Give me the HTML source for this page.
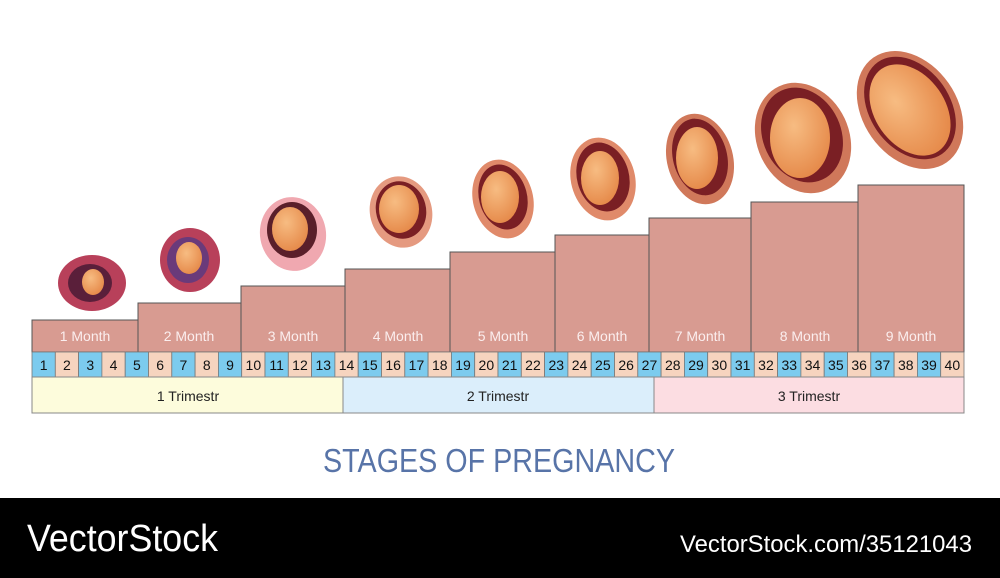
<!DOCTYPE html>
<html><head><meta charset="utf-8"><style>
html,body{margin:0;padding:0;background:#fff;width:1000px;height:578px;overflow:hidden}
svg{display:block}
text{font-family:"Liberation Sans",sans-serif}
</style></head><body>
<svg width="1000" height="578" viewBox="0 0 1000 578" xmlns="http://www.w3.org/2000/svg">
<defs>
<radialGradient id="emb" cx="40%" cy="35%" r="70%"><stop offset="0" stop-color="#f7bc82"/><stop offset="1" stop-color="#e58848"/></radialGradient>
</defs>
<!-- month steps -->
<g fill="#d89b91" stroke="#555" stroke-width="1">
<rect x="32" y="320" width="106" height="32"/>
<rect x="138" y="303" width="103" height="49"/>
<rect x="241" y="286" width="104" height="66"/>
<rect x="345" y="269" width="105" height="83"/>
<rect x="450" y="252" width="105" height="100"/>
<rect x="555" y="235" width="94" height="117"/>
<rect x="649" y="218" width="102" height="134"/>
<rect x="751" y="202" width="107" height="150"/>
<rect x="858" y="185" width="106" height="167"/>
</g>
<g fill="#fbeeee" font-size="14" text-anchor="middle">
<text x="85" y="341">1 Month</text><text x="189" y="341">2 Month</text><text x="293" y="341">3 Month</text>
<text x="398" y="341">4 Month</text><text x="503" y="341">5 Month</text><text x="602" y="341">6 Month</text>
<text x="700" y="341">7 Month</text><text x="805" y="341">8 Month</text><text x="911" y="341">9 Month</text>
</g>
<!-- weeks -->
<g id="weeks" stroke="#777" stroke-width="0.8" font-size="14">
</g>
<!-- trimesters -->
<g stroke="#888" stroke-width="1">
<rect x="32" y="377" width="311" height="36" fill="#fdfcdc"/>
<rect x="343" y="377" width="311" height="36" fill="#dbeefb"/>
<rect x="654" y="377" width="310" height="36" fill="#fcdde2"/>
</g>
<g font-size="14" text-anchor="middle" fill="#222">
<text x="188" y="401">1 Trimestr</text><text x="498" y="401">2 Trimestr</text><text x="809" y="401">3 Trimestr</text>
</g>
<!-- embryos -->
<g>
<ellipse cx="92" cy="283" rx="34" ry="28" fill="#b8405a"/><ellipse cx="90" cy="283" rx="22" ry="19" fill="#5a1f3a"/><ellipse cx="93" cy="282" rx="11" ry="13" fill="url(#emb)"/>
<ellipse cx="190" cy="260" rx="30" ry="32" fill="#b8405a"/><ellipse cx="188" cy="260" rx="21" ry="23" fill="#6a3a7a"/><ellipse cx="189" cy="258" rx="13" ry="16" fill="url(#emb)"/>
<ellipse cx="293" cy="234" rx="33" ry="37" fill="#f0a8b0" transform="rotate(-10 293 234)"/><ellipse cx="292" cy="230" rx="25" ry="28" fill="#5a1f2a"/><ellipse cx="290" cy="229" rx="18" ry="22" fill="url(#emb)"/>
<ellipse cx="401" cy="212" rx="31" ry="36" fill="#e59a80" transform="rotate(-15 401 212)"/><ellipse cx="401" cy="210" rx="25" ry="29" fill="#7a1f24" transform="rotate(-15 401 210)"/><ellipse cx="399" cy="209" rx="20" ry="24" fill="url(#emb)"/>
<ellipse cx="503" cy="199" rx="30" ry="40" fill="#e08a6a" transform="rotate(-15 503 199)"/><ellipse cx="503" cy="197" rx="24" ry="33" fill="#7a1f24" transform="rotate(-15 503 197)"/><ellipse cx="500" cy="197" rx="19" ry="26" fill="url(#emb)"/>
<ellipse cx="603" cy="179" rx="32" ry="42" fill="#e08a6a" transform="rotate(-15 603 179)"/><ellipse cx="603" cy="177" rx="26" ry="35" fill="#7a1f24" transform="rotate(-15 603 177)"/><ellipse cx="600" cy="178" rx="19" ry="27" fill="url(#emb)"/>
<ellipse cx="700" cy="159" rx="33" ry="46" fill="#d0785a" transform="rotate(-15 700 159)"/><ellipse cx="700" cy="157" rx="27" ry="39" fill="#7a1f24" transform="rotate(-15 700 157)"/><ellipse cx="697" cy="158" rx="21" ry="31" fill="url(#emb)"/>
<ellipse cx="803" cy="138" rx="46" ry="57" fill="#d0785a" transform="rotate(-25 803 138)"/><ellipse cx="802" cy="135" rx="39" ry="49" fill="#7a1f24" transform="rotate(-25 802 135)"/><ellipse cx="800" cy="138" rx="30" ry="40" fill="url(#emb)"/>
<ellipse cx="910" cy="110" rx="47" ry="64" fill="#d0785a" transform="rotate(-35 910 110)"/><ellipse cx="910" cy="108" rx="40" ry="56" fill="#7a1f24" transform="rotate(-35 910 108)"/><ellipse cx="910" cy="110" rx="35" ry="50" fill="url(#emb)" transform="rotate(-35 910 110)"/>
</g>
<text x="499" y="472" font-size="33" fill="#5874a8" text-anchor="middle" textLength="352" lengthAdjust="spacingAndGlyphs">STAGES OF PREGNANCY</text>
<rect x="0" y="498" width="1000" height="80" fill="#000"/>
<text x="27" y="551" font-size="38" fill="#fff" textLength="191" lengthAdjust="spacingAndGlyphs">VectorStock</text>
<text x="680" y="552" font-size="24" fill="#fff" textLength="292" lengthAdjust="spacingAndGlyphs">VectorStock.com/35121043</text>
</svg>
<script>
var g=document.getElementById('weeks'),ns='http://www.w3.org/2000/svg',w=932/40;
for(var i=0;i<40;i++){var x=32+i*w;var r=document.createElementNS(ns,'rect');
r.setAttribute('x',x);r.setAttribute('y',352);r.setAttribute('width',w);r.setAttribute('height',25);
r.setAttribute('fill',i%2==0?'#7ccbee':'#f6d4bf');g.appendChild(r);
var t=document.createElementNS(ns,'text');t.setAttribute('x',x+w/2);t.setAttribute('y',370);
t.setAttribute('text-anchor','middle');t.setAttribute('stroke','none');t.setAttribute('fill','#111');t.textContent=i+1;g.appendChild(t);}
</script>
</body></html>
